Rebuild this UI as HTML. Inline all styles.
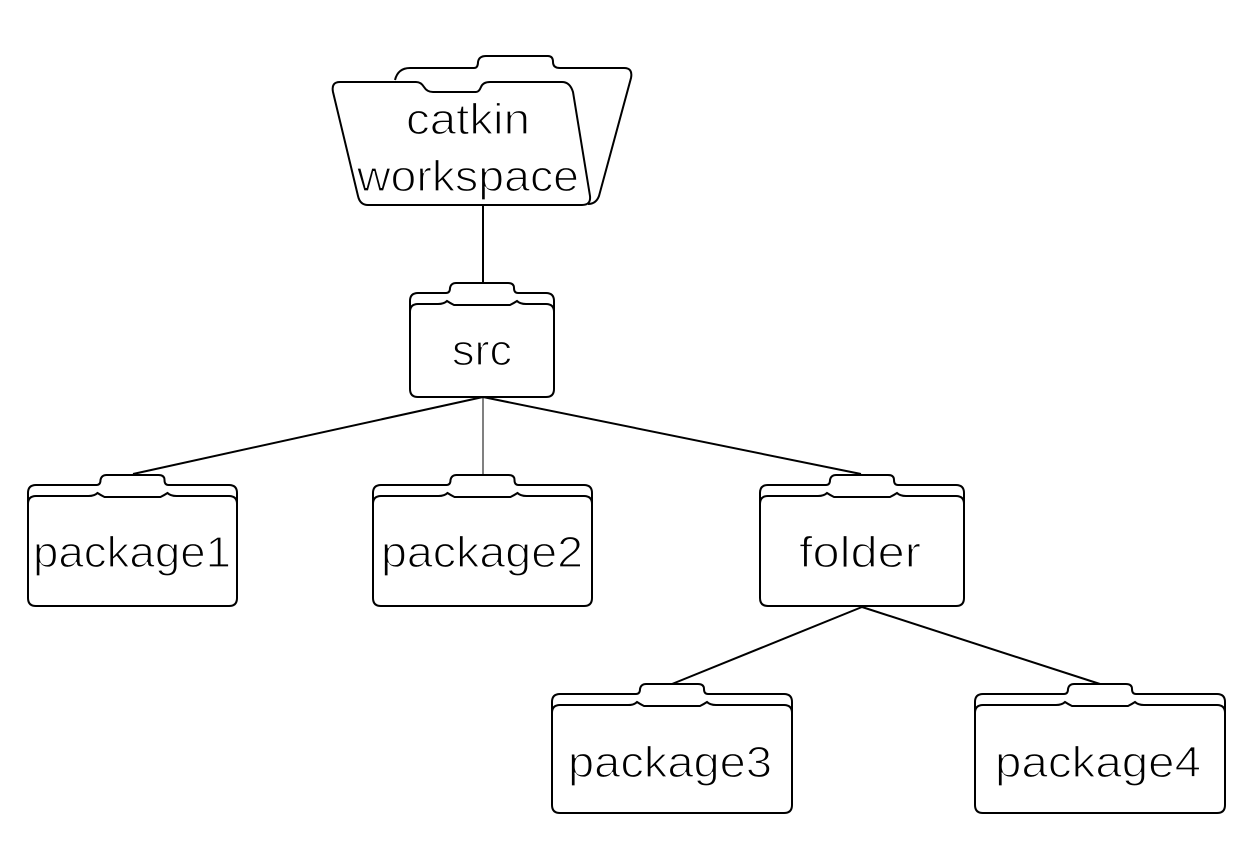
<!DOCTYPE html>
<html><head><style>html,body{margin:0;padding:0;background:#fff}svg{display:block}</style></head>
<body>
<svg width="1242" height="843" viewBox="0 0 1242 843" xmlns="http://www.w3.org/2000/svg">
<g fill="none" stroke="#000" stroke-width="2">
<line x1="483" y1="205" x2="483" y2="284"/>
<line x1="483" y1="397" x2="133" y2="474"/>
<line x1="483" y1="397" x2="483" y2="475" stroke-width="1"/>
<line x1="483" y1="397" x2="861" y2="474"/>
<line x1="862" y1="607" x2="672" y2="684"/>
<line x1="862" y1="607" x2="1100" y2="684"/>
<path d="M395,80 Q398,68 410,68 L474,68 Q478,68 478,62 Q479,56 486,56 L548,56 Q553,56 553,62 Q553,68 560,68 L624,68 Q633,68 631,78 L599,196 Q596,204 588,204"/>
<path d="M340,82 L416,82 Q421,82 424,87 Q427,92 433,92 L476,92 Q479,92 481,87 Q483,82 490,82 L562,82 Q570,82 573,92 L590,196 Q591,205 582,205 L368,205 Q360,205 358,196 L333,92 Q331,82 340,82 Z" fill="#fff"/>
</g>
<g fill="none" stroke="#000" stroke-width="2" id="folders">
</g>
<g font-family="'Liberation Sans', sans-serif" font-size="44" text-anchor="middle" fill="#000" stroke="#fff" stroke-width="1.3">
<text x="468" y="134" textLength="124" lengthAdjust="spacingAndGlyphs">catkin</text>
<text x="468" y="191" textLength="222" lengthAdjust="spacingAndGlyphs">workspace</text>
<text x="482" y="365" textLength="60" lengthAdjust="spacingAndGlyphs">src</text>
<text x="132" y="567" textLength="198" lengthAdjust="spacingAndGlyphs">package1</text>
<text x="482" y="567" textLength="202" lengthAdjust="spacingAndGlyphs">package2</text>
<text x="860" y="567" textLength="122" lengthAdjust="spacingAndGlyphs">folder</text>
<text x="670" y="777" textLength="204" lengthAdjust="spacingAndGlyphs">package3</text>
<text x="1098" y="777" textLength="206" lengthAdjust="spacingAndGlyphs">package4</text>
</g>
<script>
function folder(x0,x1,t,b){
 var c=(x0+x1)/2,tw=32,bt=t+10,ft=t+21;
 var d="M"+x0+","+(bt+8)+" Q"+x0+","+bt+" "+(x0+8)+","+bt+" L"+(c-tw-4)+","+bt+" Q"+(c-tw)+","+bt+" "+(c-tw)+","+(t+5)+" Q"+(c-tw+1)+","+t+" "+(c-tw+6)+","+t+" L"+(c+tw-6)+","+t+" Q"+(c+tw)+","+t+" "+(c+tw)+","+(t+5)+" Q"+(c+tw)+","+bt+" "+(c+tw+4)+","+bt+" L"+(x1-8)+","+bt+" Q"+x1+","+bt+" "+x1+","+(bt+8)+" L"+x1+","+(b-8)+" Q"+x1+","+b+" "+(x1-8)+","+b+" L"+(x0+8)+","+b+" Q"+x0+","+b+" "+x0+","+(b-8)+" Z";
 var d2="M"+x0+","+(ft+8)+" Q"+x0+","+ft+" "+(x0+8)+","+ft+" L"+(c-tw-12)+","+ft+" Q"+(c-tw-6)+","+ft+" "+(c-tw-3)+","+(ft-3)+" Q"+(c-tw)+","+(ft-1)+" "+(c-tw+4)+","+(ft+1)+" L"+(c+tw-4)+","+(ft+1)+" Q"+(c+tw)+","+(ft-1)+" "+(c+tw+3)+","+(ft-3)+" Q"+(c+tw+6)+","+ft+" "+(c+tw+12)+","+ft+" L"+(x1-8)+","+ft+" Q"+x1+","+ft+" "+x1+","+(ft+8);
 var g=document.getElementById("folders");
 var p=document.createElementNS("http://www.w3.org/2000/svg","path");p.setAttribute("d",d);p.setAttribute("fill","#fff");g.appendChild(p);
 var q=document.createElementNS("http://www.w3.org/2000/svg","path");q.setAttribute("d",d2);g.appendChild(q);
}
folder(410,554,283,397);
folder(28,237,475,606);
folder(373,592,475,606);
folder(760,964,475,606);
folder(552,792,684,813);
folder(975,1225,684,813);
</script>
</svg>
</body></html>
